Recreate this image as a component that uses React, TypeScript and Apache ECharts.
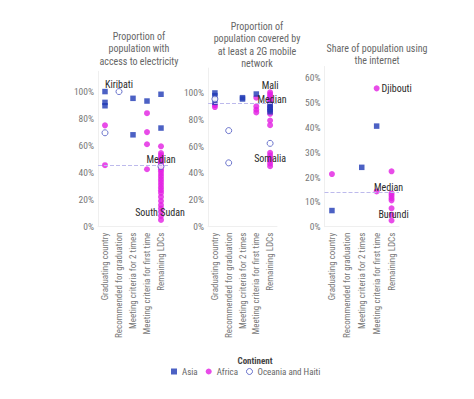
import React, { useEffect, useRef } from "react";
import * as echarts from "echarts";

const categories = [
  "Graduating country",
  "Recommended for graduation",
  "Meeting criteria for 2 times",
  "Meeting criteria for first time",
  "Remaining LDCs",
];

const panelTitles = [
  "Proportion of\npopulation with\naccess to electricity",
  "Proportion of\npopulation covered by\nat least a 2G mobile\nnetwork",
  "Share of population using\nthe internet",
];

const continents = ["Asia", "Africa", "Oceania and Haiti"];

// values (%) per category, in order of categories
const elecAsia = [[100, 92, 89.5], [], [95, 68], [93], [98, 73]];
const elecAfrica = [
  [75, 45.5],
  [],
  [],
  [84, 70, 61, 42.5],
  [59.5, 54.5, 53, 51.5, 50, 48.5, 47, 45.5, 44, 42.5, 41, 39, 37, 35, 33, 31, 29, 27, 25, 22, 19, 16, 13.5, 11, 8, 5],
];
const elecOceania = [[69.5], [100], [], [], [44.6]];
const elecMedian = 45.5;

const mobileAsia = [[99.5, 97.5, 92.5], [], [96, 95], [98.7], [91, 89, 87, 85.5]];
const mobileAfrica = [
  [90.5, 89],
  [],
  [],
  [96, 89.5, 87, 85],
  [100, 98.5, 97, 95.5, 94, 92.5, 89, 86.5, 84, 79, 75.5, 55, 53, 51, 49, 47, 45],
];
const mobileOceania = [[95], [71.5, 47.5], [], [], [62]];
const mobileMedian = 91.5;

const netAsia = [[6.5], [], [23.9], [40.5], []];
const netAfrica = [[21.2], [], [], [55.7, 14.2], [22.3, 13.4, 12.5, 11.5, 10.6, 7.4, 4.8, 2.5]];
const netOceania = [[], [], [], [], []];
const netMedian = 13.7;

// annotations: [label, categoryIndex, value, offsetX, offsetY]
const elecNotes: [string, number, number, number, number][] = [
  ["Kiribati", 1, 100, 0, -7],
  ["South Sudan", 4, 5, -1, -7],
];
const mobileNotes: [string, number, number, number, number][] = [
  ["Mali", 4, 100, 0, -7],
  ["Somalia", 4, 45, 0, -8],
];
const netNotes: [string, number, number, number, number][] = [
  ["Djibouti", 3, 55.7, 20, 0],
  ["Burundi", 4, 2.5, 2, -6],
];
const medianOffsets: [number, number][] = [
  [0, -6],
  [2, -4],
  [-3, -5],
];

const FONT = "'Roboto Condensed', 'Liberation Sans Narrow', 'Arial Narrow', Roboto, sans-serif";

const COLORS = { asia: "#1f3ab5", africa: "#e21fe2", oceania: "#4a55c0" };

function toPoints(arr: number[][]) {
  const out: [number, number][] = [];
  arr.forEach((vals, ci) => vals.forEach((v) => out.push([ci, v])));
  return out;
}

export default function App() {
  const ref = useRef<HTMLDivElement>(null);
  useEffect(() => {
    if (!ref.current) return;
    const chart = echarts.init(ref.current, undefined, { renderer: "svg" });

    const panels = [
      { asia: elecAsia, africa: elecAfrica, oceania: elecOceania, median: elecMedian, notes: elecNotes, max: 115, interval: 20, left: 98, width: 70, top: 71.3, height: 155.4 },
      { asia: mobileAsia, africa: mobileAfrica, oceania: mobileOceania, median: mobileMedian, notes: mobileNotes, max: 118, interval: 20, left: 208, width: 69, top: 68.1, height: 158.6 },
      { asia: netAsia, africa: netAfrica, oceania: netOceania, median: netMedian, notes: netNotes, max: 64.5, interval: 10, left: 324.5, width: 74.5, top: 66.5, height: 160.2 },
    ];
    const titleTops = [25, 15, 37];
    const titleCenters = [134, 252, 372];

    const grids: any[] = [];
    const xAxes: any[] = [];
    const yAxes: any[] = [];
    const series: any[] = [];
    const titles: any[] = [];

    panels.forEach((p, i) => {
      grids.push({ left: p.left, width: p.width, top: p.top, height: p.height, containLabel: false });
      xAxes.push({
        type: "category",
        gridIndex: i,
        data: categories,
        boundaryGap: true,
        axisLine: { show: true, lineStyle: { color: "#efefef", width: 1 } },
        axisTick: { show: false },
        splitLine: { show: false },
        axisLabel: { rotate: 90, interval: 0, fontSize: 9, color: "#777", margin: 6, fontFamily: FONT },
      });
      yAxes.push({
        type: "value",
        gridIndex: i,
        min: 0,
        max: p.max,
        interval: p.interval,
        axisLine: { show: true, lineStyle: { color: "#efefef", width: 1 } },
        axisTick: { show: false },
        splitLine: { show: false },
        axisLabel: {
          fontSize: 9.5,
          color: "#777",
          margin: 4,
          fontFamily: FONT,
          formatter: (v: number) => (Math.abs(v % p.interval) < 1e-6 ? v + "%" : ""),
        },
      });
      titles.push({
        text: panelTitles[i],
        left: titleCenters[i],
        top: titleTops[i],
        textAlign: "center",
        textStyle: { fontSize: 10, fontWeight: "normal", color: "#666", lineHeight: 12.5, fontFamily: FONT },
      });

      series.push({
        name: "Africa",
        type: "scatter",
        xAxisIndex: i,
        yAxisIndex: i,
        symbol: "circle",
        symbolSize: 6,
        itemStyle: { color: COLORS.africa },
        data: toPoints(p.africa),
        z: 2,
        markLine: {
          silent: true,
          symbol: "none",
          label: { show: false },
          lineStyle: { color: "#bdbaec", type: "dashed", width: 1 },
          data: [{ yAxis: p.median }],
        },
        markPoint: {
          silent: true,
          symbol: "circle",
          symbolSize: 0,
          data: [
            ...p.notes.map((n) => ({
              coord: [n[1], n[2]],
              label: { show: true, formatter: n[0], position: "inside", offset: [n[3], n[4]] },
            })),
            {
              coord: [4, p.median],
              label: { show: true, formatter: "Median", position: "inside", offset: medianOffsets[i] },
            },
          ],
          label: { fontSize: 10, color: "#2a2a2a", fontFamily: FONT },
        },
      });
      series.push({
        name: "Asia",
        type: "scatter",
        xAxisIndex: i,
        yAxisIndex: i,
        symbol: "rect",
        symbolSize: 5.5,
        itemStyle: { color: COLORS.asia },
        data: toPoints(p.asia),
        z: 3,
      });
      series.push({
        name: "Oceania and Haiti",
        type: "scatter",
        xAxisIndex: i,
        yAxisIndex: i,
        symbol: "circle",
        symbolSize: 6,
        itemStyle: { color: "#ffffff", borderColor: COLORS.oceania, borderWidth: 1 },
        data: toPoints(p.oceania),
        z: 4,
      });
    });

    titles.push({
      text: "Continent",
      left: 250,
      top: 351,
      textAlign: "center",
      textStyle: { fontSize: 9, fontWeight: "bold", color: "#444", fontFamily: FONT },
    });

    chart.setOption({
      animation: false,
      backgroundColor: "#ffffff",
      textStyle: { fontFamily: FONT },
      title: titles,
      grid: grids,
      xAxis: xAxes,
      yAxis: yAxes,
      series,
      legend: {
        data: continents,
        left: 166,
        top: 362,
        itemWidth: 6,
        itemHeight: 6,
        itemGap: 8,
        itemStyle: { borderWidth: 1 },
        textStyle: { fontSize: 9, color: "#666", fontFamily: FONT },
      },
    });
    return () => chart.dispose();
  }, []);

  return (
    <div
      ref={ref}
      style={{ position: "fixed", left: 0, top: 0, width: 474, height: 399 }}
    />
  );
}
